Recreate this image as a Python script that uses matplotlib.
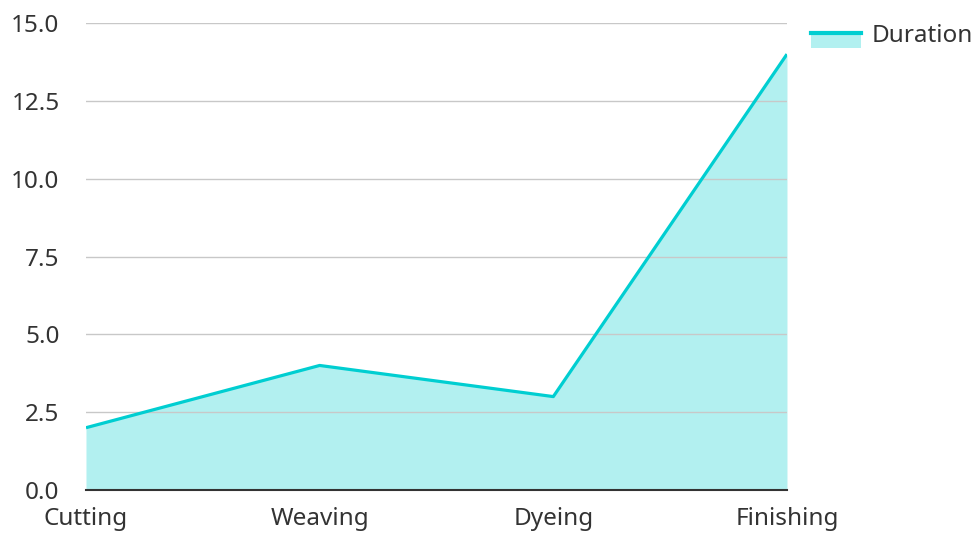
import matplotlib
matplotlib.use("Agg")
import matplotlib.pyplot as plt
from matplotlib.patches import Rectangle
from matplotlib.lines import Line2D
from matplotlib.legend_handler import HandlerBase

plt.rcParams['font.family'] = ['Noto Sans', 'DejaVu Sans']

stages = ['Cutting', 'Weaving', 'Dyeing', 'Finishing']
duration = [2, 4, 3, 14]
yticks = [0.0, 2.5, 5.0, 7.5, 10.0, 12.5, 15.0]

line_color = '#00CED1'
fill_color = '#B2F0F0'


class AreaHandler(HandlerBase):
    def create_artists(self, legend, orig, xd, yd, w, h, fontsize, trans):
        top = yd + h * 0.5
        rect = Rectangle((xd, top - h * 0.88), w, h * 0.88, facecolor=fill_color,
                         edgecolor='none', transform=trans)
        ln = Line2D([xd, xd + w], [top, top], color=line_color, lw=3, transform=trans)
        return [rect, ln]


fig = plt.figure(figsize=(9.77, 5.33), dpi=100)
ax = fig.add_axes([0.088, 0.0807, 0.7175, 0.8761])

x = list(range(len(stages)))
ax.fill_between(x, duration, 0, color=fill_color, lw=0, zorder=1)
ax.plot(x, duration, color=line_color, lw=2.3, zorder=3, solid_capstyle='butt')

ax.set_xlim(0, len(stages) - 1)
ax.set_ylim(0, 15)
ax.set_yticks(yticks)
ax.set_yticklabels([f'{v:.1f}' for v in yticks])
ax.set_xticks(x)
ax.set_xticklabels(stages)
ax.yaxis.grid(True, color='#c8c8c8', lw=1, zorder=2)
ax.set_axisbelow(False)
for s in ['left', 'right', 'top']:
    ax.spines[s].set_visible(False)
ax.spines['bottom'].set_color('#333333')
ax.spines['bottom'].set_linewidth(1.5)
ax.spines['bottom'].set_zorder(4)
ax.tick_params(axis='both', length=0, labelsize=17.5, colors='#333333')
ax.tick_params(axis='y', pad=19)
ax.tick_params(axis='x', pad=12)

handle = Rectangle((0, 0), 1, 1)
ax.legend([handle], ['Duration'], handler_map={Rectangle: AreaHandler()},
          loc='upper left', bbox_to_anchor=(1.0, 1.05), frameon=False,
          fontsize=17.5, handlelength=2.05, handletextpad=0.42,
          borderaxespad=0.6, labelcolor='#333333')

fig.savefig('out.png', dpi=100)
